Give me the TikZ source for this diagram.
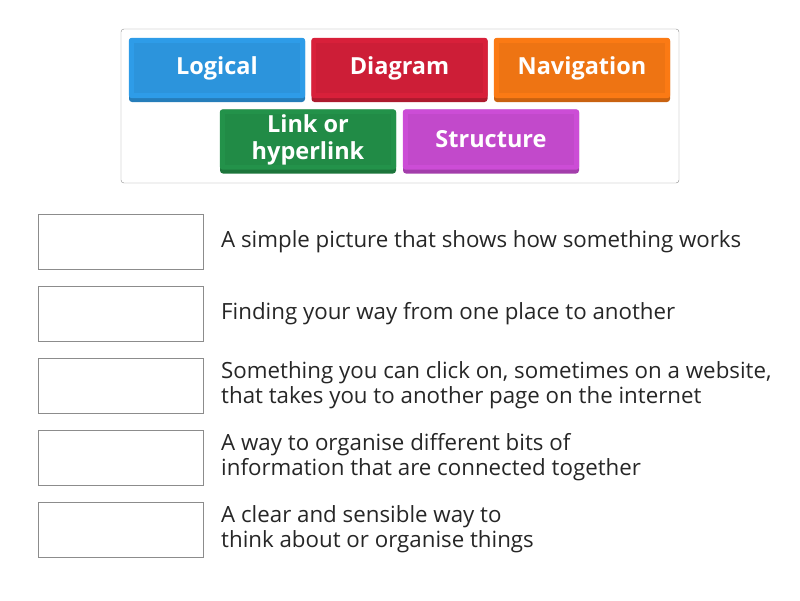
\documentclass[tikz,border=0pt]{standalone}
\usepackage{fontspec}
\setmainfont{Open Sans}
\definecolor{tblue}{HTML}{2E9CE8}
\definecolor{tred}{HTML}{D8203A}
\definecolor{torange}{HTML}{FB7A14}
\definecolor{tgreen}{HTML}{23924A}
\definecolor{tpurple}{HTML}{CC4DD6}
\tikzset{
  tile/.style={rounded corners=3pt, minimum width=176pt, minimum height=64pt, inner sep=0pt},
  tiletext/.style={text=white, font=\fontsize{23.5}{27}\selectfont\bfseries, align=center},
  slot/.style={draw=black!45, minimum width=165pt, minimum height=55pt, inner sep=0pt},
  clue/.style={anchor=west, align=left, inner sep=0pt, font=\fontsize{22.3}{25}\selectfont, text=black!85}
}
\newcommand{\drawtile}[4]{% name, colour, centre, text
  \node[tile, fill=#2!80!black] (#1) at #3 {};
  \fill[#2, rounded corners=3pt] (#1.north west) rectangle ([yshift=4pt]#1.south east);
  \fill[#2!95!black] ([shift={(5pt,-5pt)}]#1.north west) rectangle ([shift={(-5pt,9pt)}]#1.south east);
  \node[tiletext] (#1text) at ([yshift=2pt]#1.center) {#4};
}
\begin{document}
\begin{tikzpicture}[x=1pt,y=-1pt]
\useasboundingbox (0,0) rectangle (800,600);
\draw[black!45, rounded corners=3pt] (121,29) rectangle (679,183);
\drawtile{logical}{tblue}{(217,70)}{Logical}
\drawtile{diagram}{tred}{(399.5,70)}{Diagram}
\drawtile{navigation}{torange}{(582,70)}{Navigation}
\drawtile{link}{tgreen}{(308,141.5)}{Link or\\hyperlink}
\drawtile{structure}{tpurple}{(491,141.5)}{Structure}
% answer slots and clues
\foreach \i/\txt in {0/{A simple picture that shows how something works},
  1/{Finding your way from one place to another},
  2/{Something you can click on, sometimes on a website,\\that takes you to another page on the internet},
  3/{A way to organise different bits of\\information that are connected together},
  4/{A clear and sensible way to\\think about or organise things}}{
  \node[slot] (slot\i) at (120.5,241.5+72*\i) {};
  \node[clue] (clue\i) at (221,241.5+72*\i) {\txt};
}
\end{tikzpicture}
\end{document}
